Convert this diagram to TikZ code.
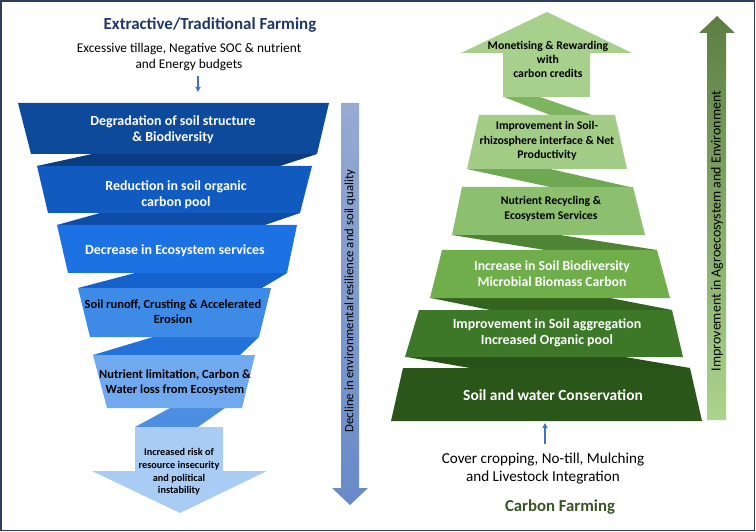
\documentclass[tikz,border=0pt]{standalone}
\usepackage{fontspec}
\setmainfont{Carlito}
\usetikzlibrary{arrows.meta,positioning,calc}
\definecolor{framenavy}{RGB}{47,62,94}
\definecolor{titlenavy}{RGB}{31,56,100}
\definecolor{cfgreen}{RGB}{55,86,35}
\definecolor{smallblue}{RGB}{68,114,196}
% funnel blues
\definecolor{segA}{RGB}{14,74,156}
\definecolor{segB}{RGB}{17,90,192}
\definecolor{segC}{RGB}{28,114,227}
\definecolor{segD}{RGB}{61,139,230}
\definecolor{segE}{RGB}{112,169,238}
\definecolor{segF}{RGB}{169,204,245}
\definecolor{foldA}{RGB}{10,60,128}
\definecolor{foldB}{RGB}{13,77,168}
\definecolor{foldC}{RGB}{22,98,204}
\definecolor{foldD}{RGB}{34,114,218}
\definecolor{foldE}{RGB}{76,143,224}
% pyramid greens
\definecolor{grA}{RGB}{168,208,141}
\definecolor{grB}{RGB}{163,205,135}
\definecolor{grC}{RGB}{140,192,110}
\definecolor{grD}{RGB}{112,173,75}
\definecolor{grE}{RGB}{60,120,40}
\definecolor{grF}{RGB}{42,86,26}
\definecolor{gfoldA}{RGB}{125,180,95}
\definecolor{gfoldB}{RGB}{110,168,82}
\definecolor{gfoldC}{RGB}{78,132,52}
\definecolor{gfoldD}{RGB}{50,100,32}
\definecolor{gfoldE}{RGB}{40,82,24}

\begin{document}
\begin{tikzpicture}[x=1bp, y=-1bp,
    every node/.style={inner sep=0pt, align=center},
    smallarr/.style={smallblue, line width=1.2bp, -{Triangle[length=5bp,width=5bp]}},
    bandtxt/.style 2 args={font=\bfseries\fontsize{#1}{#2}\selectfont}]
  \useasboundingbox (0,0) rectangle (756,532);
  \draw[framenavy, line width=1.5bp] (1,1) rectangle (754.5,530.5);

  % left funnel: folds behind, then bands
  \foreach \ya/\yb/\xa/\xb/\xc/\xd/\c in {154/166/37/92/317/280/foldA,
      213/225/57/100/300/265/foldB, 273/288/78/135/287/262/foldC,
      337/355/93/153/259/240/foldD, 408/427/135/170/225/198/foldE}
    \fill[fill=\c] (\xa,\yb) -- (\xb,\ya) -- (\xc,\ya) -- (\xd,\yb) -- cycle;
  \foreach \ya/\yb/\xa/\xb/\xc/\xd/\c in {103/154/18/329/31/317/segA,
      166/213/37/312/48/300/segB, 225/273/57/297/68/287/segC,
      288/337/78/271/90/259/segD, 355/408/93/255/107/242/segE}
    \fill[fill=\c] (\xa,\ya) -- (\xb,\ya) -- (\xd,\yb) -- (\xc,\yb) -- cycle;
  \fill[segF] (135,427) -- (223,427) -- (223,471) -- (267,471) -- (180,513)
    -- (92,471) -- (135,471) -- cycle;

  \node[bandtxt={14}{16}, text=white] (deg) at (173,130) {Degradation of soil structure\\\& Biodiversity};
  \node[bandtxt={14}{16}, text=white] (red) at (176,195) {Reduction in soil organic\\carbon pool};
  \node[bandtxt={14}{16}, text=white] (dec) at (175,251) {Decrease in Ecosystem services};
  \node[bandtxt={12.5}{15}, text=black] (run) at (173,312) {Soil runoff, Crusting \& Accelerated\\Erosion};
  \node[bandtxt={12.5}{15}, text=black] (nut) at (175,383) {Nutrient limitation, Carbon \&\\Water loss from Ecosystem};
  \node[bandtxt={10.3}{12.8}] (risk) at (179,472) {Increased risk of\\resource insecurity\\and political\\instability};

  % right pyramid: folds behind, then bands
  \foreach \ya/\yb/\xa/\xb/\xc/\xd/\c in {97/115/504/540/592/550/gfoldA,
      169/187/467/550/630/550/gfoldB, 235/250/452/560/657/545/gfoldC,
      298/310/431/610/672/490/gfoldD, 357/368/407/625/690/470/gfoldE}
    \fill[fill=\c] (\xa,\ya) -- (\xb,\ya) -- (\xc,\yb) -- (\xd,\yb) -- cycle;
  \fill[grA] (503,97) -- (503,53) -- (461,53) -- (547,12) -- (632,53) -- (590,53)
    -- (590,97) -- cycle;
  \foreach \ya/\yb/\xa/\xb/\xc/\xd/\c in {115/169/479/615/467/627/grB,
      187/235/462/633/452/645/grC, 250/298/442/657/430/670/grD,
      310/357/419/672/405/683/grE, 368/421/403/690/391/702/grF}
    \fill[fill=\c] (\xa,\ya) -- (\xb,\ya) -- (\xd,\yb) -- (\xc,\yb) -- cycle;

  \node[bandtxt={11.8}{14}] (money) at (548,59) {Monetising \& Rewarding\\with\\carbon credits};
  \node[bandtxt={11.8}{14.5}] (rhizo) at (547,141) {Improvement in Soil-\\rhizosphere interface \& Net\\Productivity};
  \node[bandtxt={11.8}{14.5}] (recyc) at (551,209) {Nutrient Recycling \&\\Ecosystem Services};
  \node[bandtxt={13.8}{16}, text=white] (biodiv) at (552,274) {Increase in Soil Biodiversity\\Microbial Biomass Carbon};
  \node[bandtxt={14}{16.5}, text=white] (aggr) at (547,333) {Improvement in Soil aggregation\\Increased Organic pool};
  \node[bandtxt={15.5}{17}, text=white] (consv) at (553,395) {Soil and water Conservation};

  % side arrows
  \shade[top color={rgb,255:red,150;green,170;blue,210}, bottom color={rgb,255:red,104;green,138;blue,200}]
    (341,103) -- (359,103) -- (359,488) -- (368,488) -- (350,505) -- (332,488) -- (341,488) -- cycle;
  \node[rotate=90, font=\fontsize{12.8}{15}\selectfont] (decline) at (350,301)
    {Decline in environmental resilience and soil quality};
  \shade[top color={rgb,255:red,92;green,126;blue,68}, bottom color={rgb,255:red,172;green,212;blue,142}]
    (707,420) -- (707,33) -- (699,33) -- (717,16) -- (735,33) -- (726,33) -- (726,420) -- cycle;
  \node[rotate=90, font=\fontsize{14}{16}\selectfont] (improve) at (717,231)
    {Improvement in Agroecosystem and Environment};

  % headings and inputs
  \node[bandtxt={17}{20}, text=titlenavy] (title) at (210,25) {Extractive/Traditional Farming};
  \node[font=\fontsize{13.4}{16}\selectfont] (excess) at (189,57) {Excessive tillage, Negative SOC \& nutrient\\and Energy budgets};
  \coordinate (ltip) at (198,92);
  \draw[smallarr, shorten <=5bp] (excess.south -| ltip) -- (ltip);
  \node[font=\fontsize{15.2}{18}\selectfont] (cover) at (543,469) {Cover cropping, No-till, Mulching\\and Livestock Integration};
  \coordinate (rtip) at (545,423);
  \draw[smallarr, shorten <=9bp] (cover.north -| rtip) -- (rtip);
  \node[bandtxt={16.8}{19}, text=cfgreen] (cfarm) at (560,507) {Carbon Farming};
\end{tikzpicture}
\end{document}
